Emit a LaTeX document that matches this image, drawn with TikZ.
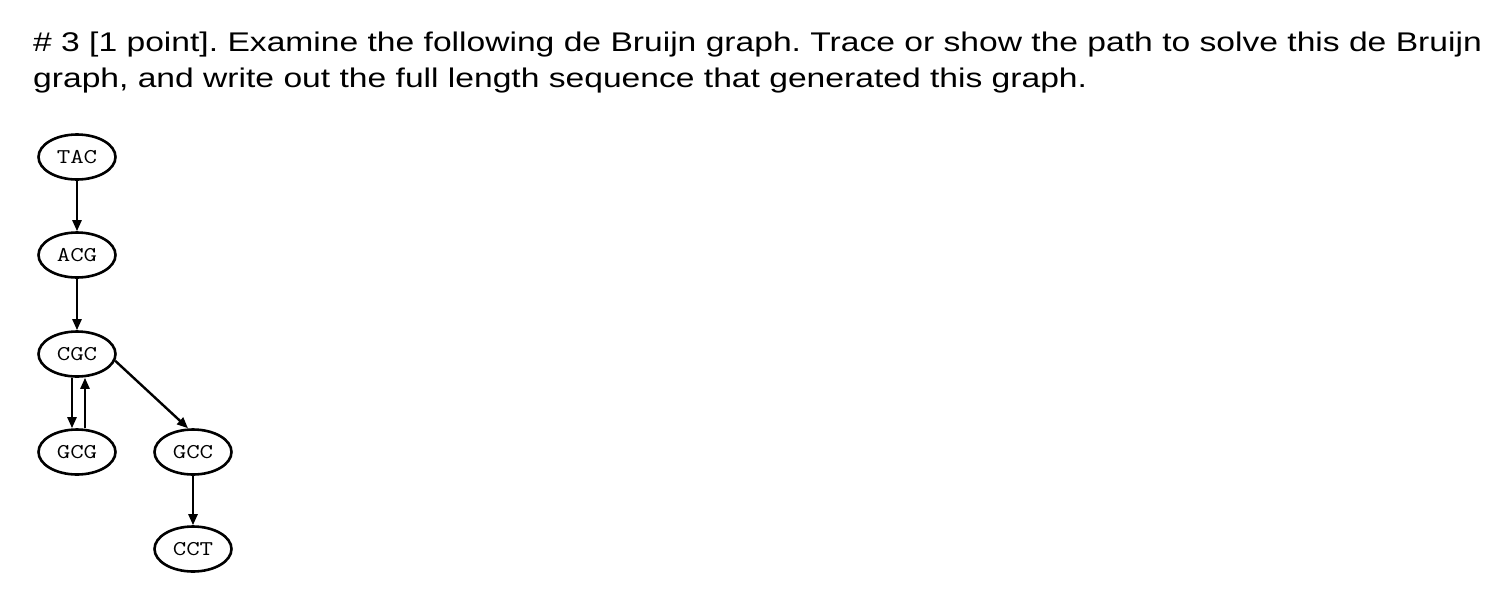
\documentclass[tikz,border=0pt]{standalone}
\usepackage{graphicx}
\usepackage{fontspec}
\setmainfont{Liberation Sans}
\usetikzlibrary{arrows.meta, positioning, shapes.geometric}
\frenchspacing

% the scan is stretched sideways
\newcommand{\wide}[1]{\scalebox{1.245}[1]{#1}}

\tikzset{
    kmer/.style={draw, ellipse, line width=2.6pt, minimum width=77pt, minimum height=45pt,
        inner sep=0pt, font=\fontsize{21}{21}\selectfont\ttfamily},
    edge/.style={line width=2.4pt, -{Triangle[length=11pt, width=9pt]}},
    qline/.style={anchor=base west, inner sep=0pt, font=\fontsize{27}{35}\selectfont}
}

\begin{document}
\begin{tikzpicture}[x=1pt, y=-1pt]
        \useasboundingbox (0,0) rectangle (1502,590);
        % question text
        \node[qline] (line1) at (33,51) {\wide{\# 3 [1 point]. Examine the following de Bruijn graph. Trace or show the path to solve this de Bruijn}};
        \node[qline] (line2) at (33,87) {\wide{graph, and write out the full length sequence that generated this graph.}};
        % de Bruijn graph
        \node[kmer] (tac) at (77,157) {\wide{TAC}};
        \node[kmer] (acg) at (77,255) {\wide{ACG}};
        \node[kmer] (cgc) at (77,354) {\wide{CGC}};
        \node[kmer] (gcg) at (77,452) {\wide{GCG}};
        \node[kmer] (gcc) at (193,452) {\wide{GCC}};
        \node[kmer] (cct) at (193,549) {\wide{CCT}};
        \draw[edge] (tac) -- (acg);
        \draw[edge] (acg) -- (cgc);
        \draw[edge] ([xshift=-5pt]cgc.south) -- ([xshift=-5pt]gcg.north);
        \draw[edge] ([xshift=8pt]gcg.north) -- ([xshift=8pt]cgc.south);
        \draw[edge] (cgc.-10) -- ([xshift=-5pt]gcc.north);
        \draw[edge] (gcc) -- (cct);
\end{tikzpicture}
\end{document}
